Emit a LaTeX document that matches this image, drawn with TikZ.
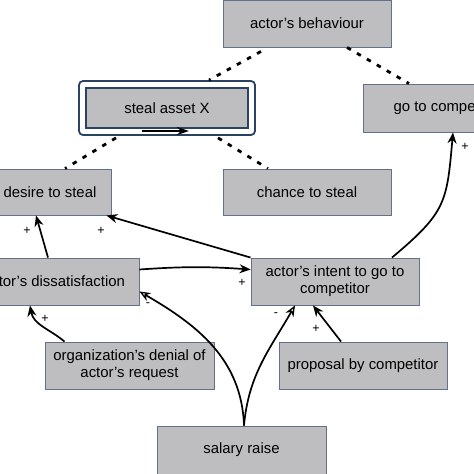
\documentclass[tikz,border=0pt]{standalone}
\usepackage{fontspec}
\setmainfont{Liberation Sans}
\usetikzlibrary{arrows.meta}
\definecolor{boxfill}{HTML}{BEBEC0}
\definecolor{boxline}{HTML}{62728A}
\definecolor{stealline}{HTML}{2B4263}
\tikzset{
  box/.style={draw=boxline, fill=boxfill, line width=0.9pt, minimum width=168pt,
    minimum height=47pt, inner sep=0pt, align=center,
    font=\fontsize{14.9}{17}\selectfont},
  link/.style={line width=1.7pt, -{Stealth[length=11pt,width=9pt]}},
  neglink/.style={line width=1.7pt, -{Stealth[open,length=11pt,width=9pt,fill=white,line width=1.3pt]}},
  dotlink/.style={line width=2.8pt, dash pattern=on 4.5pt off 7pt},
  sign/.style={font=\fontsize{12.5}{13}\selectfont, inner sep=0pt}
}
\begin{document}
\begin{tikzpicture}[x=1pt,y=-1pt]
\clip (0,0) rectangle (474,474);
\fill[white] (0,0) rectangle (474,474);
% nodes
\node[box] (beh) at (307,23.5) {actor’s behaviour};
\node[draw=stealline, line width=1.8pt, rounded corners=4pt, fill=white,
      minimum width=176pt, minimum height=54pt, inner sep=0pt] (stealo) at (167,108) {};
\node[box, draw=stealline, line width=1.8pt, minimum width=162pt, minimum height=40pt] (steal) at (167,108) {steal asset X};
\node[box, minimum height=48pt] (goc) at (447,108) {go to competitor};
\node[box, minimum width=122pt, minimum height=46pt] (des) at (50,192) {desire to steal};
\node[box, minimum height=46pt] (cha) at (307,192) {chance to steal};
\node[box, minimum width=170pt] (dis) at (54,281.5) {actor’s dissatisfaction};
\node[box] (int) at (335,281.5) {actor’s intent to go to\\competitor};
\node[box, minimum width=169pt] (den) at (129.5,365.5) {organization’s denial of\\actor’s request};
\node[box] (pro) at (363,365.5) {proposal by competitor};
\node[box, minimum width=169pt, minimum height=48pt] (sal) at (241.5,450) {salary raise};
% arrow inside steal asset X
\draw[line width=2pt, -{Stealth[length=12pt,width=8pt]}] ([xshift=-25pt,yshift=-23pt]stealo.center) -- ([xshift=22pt,yshift=-23pt]stealo.center);
% dotted decomposition links
\draw[dotlink] ([xshift=-46pt,yshift=-4pt]beh.south) -- ([xshift=42pt]stealo.north);
\draw[dotlink] ([xshift=40pt]beh.south) -- ([xshift=-38pt]goc.north);
\draw[dotlink] ([xshift=-51pt,yshift=-2pt]stealo.south) -- ([xshift=15pt]des.north);
\draw[dotlink] ([xshift=51pt,yshift=-2pt]stealo.south) -- ([xshift=-39pt]cha.north);
% causal links
\draw[link] ([xshift=-6pt]dis.north) -- ([xshift=-14pt]des.south);
\draw[link] (int.north west) -- ([xshift=-5pt]des.south east);
\draw[link] ([yshift=12pt]dis.east) to[bend left=4] ([yshift=12pt]int.west);
\draw[link] ([xshift=57pt]int.north) to[out=40,in=-95,looseness=1.3] ([xshift=6pt]goc.south);
\draw[link] ([xshift=-65pt]den.north) to[out=140,in=-80] ([xshift=-24pt]dis.south);
\draw[neglink] ([xshift=2.5pt]sal.north) to[out=92,in=-30] ([yshift=-10pt]dis.east);
\draw[neglink] ([xshift=2.5pt]sal.north) to[out=85,in=-120] ([xshift=-40pt]int.south);
\draw[link] ([xshift=-22pt]pro.north) -- ([xshift=-22pt]int.south);
% signs
\node[sign] (s1) at (27,231) {+};
\node[sign] (s2) at (101,231) {+};
\node[sign] (s3) at (242,283) {+};
\node[sign] (s4) at (465,147) {+};
\node[sign] (s5) at (45,319) {+};
\node[sign] (s6) at (148,305) {-};
\node[sign] (s7) at (276,315) {-};
\node[sign] (s8) at (316,329) {+};
\end{tikzpicture}
\end{document}
